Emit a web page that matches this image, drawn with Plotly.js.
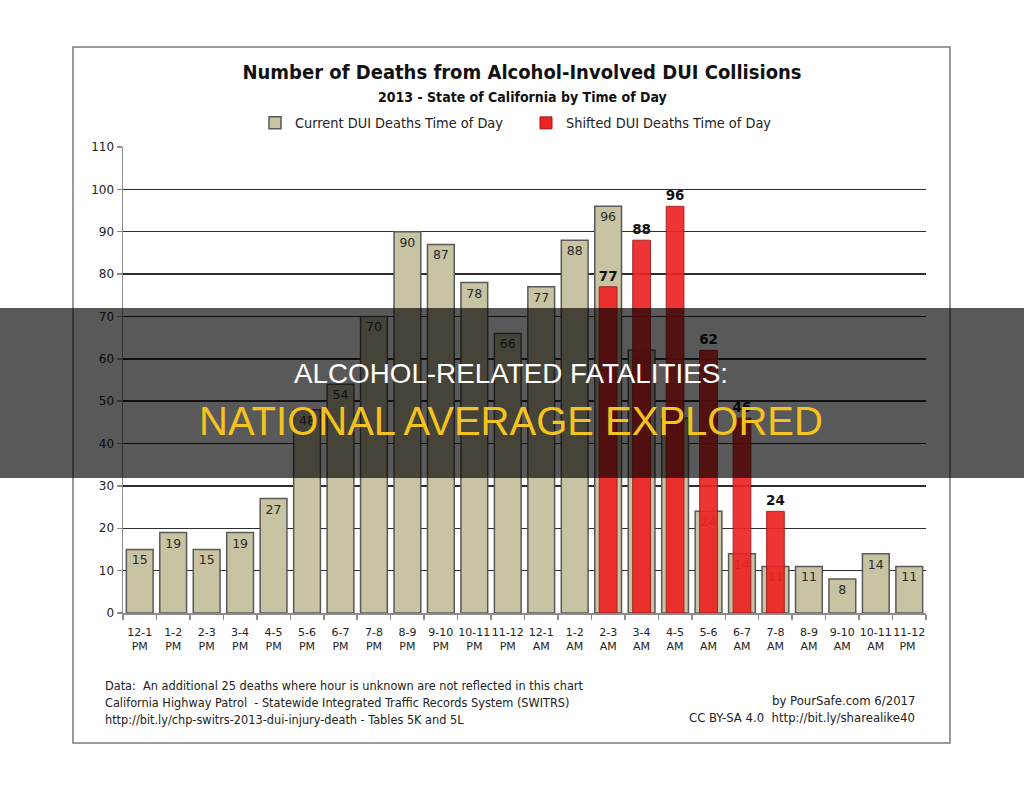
<!DOCTYPE html>
<html>
<head>
<meta charset="utf-8">
<script src="https://cdn.plot.ly/plotly-3.0.1.min.js"></script>
<style>
  html, body { margin: 0; padding: 0; background: #ffffff; }
  #chart { width: 1024px; height: 791px; }
</style>
</head>
<body>
<div id="chart"></div>
<script>
// Hour-of-day buckets (two-line tick labels). The last bucket carries a
// trailing space so both "11-12 PM" buckets stay separate categories.
const timeSlots = [
  '12-1<br>PM', '1-2<br>PM', '2-3<br>PM', '3-4<br>PM', '4-5<br>PM', '5-6<br>PM',
  '6-7<br>PM', '7-8<br>PM', '8-9<br>PM', '9-10<br>PM', '10-11<br>PM', '11-12<br>PM',
  '12-1<br>AM', '1-2<br>AM', '2-3<br>AM', '3-4<br>AM', '4-5<br>AM', '5-6<br>AM',
  '6-7<br>AM', '7-8<br>AM', '8-9<br>AM', '9-10<br>AM', '10-11<br>AM', '11-12<br>PM '
];

// Deaths per hour, 2013, California (SWITRS)
const currentDeaths = [15, 19, 15, 19, 27, 48, 54, 70, 90, 87, 78, 66,
                       77, 88, 96, 62, 46, 24, 14, 11, 11, 8, 14, 11];

// Same late-night deaths moved two hours later (2 AM close)
const shiftedDeaths = [null, null, null, null, null, null, null, null, null, null, null, null,
                       null, null, 77, 88, 96, 62, 46, 24, null, null, null, null];

const yTicks = [0, 10, 20, 30, 40, 50, 60, 70, 80, 90, 100, 110];

const seriesNames = ['Current DUI Deaths Time of Day', 'Shifted DUI Deaths Time of Day'];

const chartTitle = 'Number of Deaths from Alcohol-Involved DUI Collisions';
const chartSubtitle = '2013 - State of California by Time of Day';
const sourceLines = [
  'Data:  An additional 25 deaths where hour is unknown are not reflected in this chart',
  'California Highway Patrol  - Statewide Integrated Traffic Records System (SWITRS)',
  'http://bit.ly/chp-switrs-2013-dui-injury-death - Tables 5K and 5L'
];
const creditLines = [
  'by PourSafe.com 6/2017',
  'CC BY-SA 4.0  http://bit.ly/sharealike40'
];
const bannerTop = 'ALCOHOL-RELATED FATALITIES:';
const bannerBottom = 'NATIONAL AVERAGE EXPLORED';

// Plot area in page pixels
const W = 1024, H = 791;
const plotL = 123, plotR = 926, plotT = 147, plotB = 613;
const px = x => (x - plotL) / (plotR - plotL);
const py = y => (plotB - y) / (plotB - plotT);

const narrow = '"Liberation Sans Narrow", "DejaVu Sans Condensed", "Liberation Sans", sans-serif';
const tickFont = '"DejaVu Sans", Verdana, sans-serif';

const traces = [
  {
    type: 'bar',
    name: seriesNames[0],
    x: timeSlots,
    y: currentDeaths,
    width: 0.8,
    marker: { color: '#c8c3a3', line: { color: '#595959', width: 1.5 } },
    text: currentDeaths.map(String),
    textposition: 'inside',
    insidetextanchor: 'end',
    constraintext: 'none',
    insidetextfont: { family: tickFont, size: 12.5, color: '#2a2a2a' },
    cliponaxis: false,
    hoverinfo: 'x+y'
  },
  {
    type: 'bar',
    name: seriesNames[1],
    x: timeSlots,
    y: shiftedDeaths,
    width: 0.53,
    marker: { color: '#ec2424', opacity: 0.92, line: { color: '#a01818', width: 1 } },
    text: shiftedDeaths.map(v => v == null ? '' : String(v)),
    textposition: 'outside',
    constraintext: 'none',
    outsidetextfont: { family: tickFont, size: 13.5, color: '#111111', weight: 'bold' },
    cliponaxis: false,
    hoverinfo: 'x+y'
  }
];

const annotations = [
  {
    xref: 'paper', yref: 'paper', x: px(522), y: py(97),
    text: '<b>' + chartSubtitle + '</b>', showarrow: false,
    xanchor: 'center', yanchor: 'middle',
    font: { family: narrow, size: 14, color: '#111111' }
  }
];
sourceLines.forEach((t, i) => annotations.push({
  xref: 'paper', yref: 'paper', x: px(103), y: py(685 + i * 17),
  text: t, showarrow: false, xanchor: 'left', yanchor: 'middle',
  font: { family: narrow, size: 12.6, color: '#222222' }
}));
creditLines.forEach((t, i) => annotations.push({
  xref: 'paper', yref: 'paper', x: px(917), y: py(700 + i * 17),
  text: t, showarrow: false, xanchor: 'right', yanchor: 'middle',
  font: { family: narrow, size: 13, color: '#222222' }
}));
// Headline banner text
annotations.push({
  xref: 'paper', yref: 'paper', x: px(511), y: py(373),
  text: bannerTop, showarrow: false, xanchor: 'center', yanchor: 'middle',
  font: { family: '"Liberation Sans", Arial, sans-serif', size: 27.8, color: '#ffffff' }
});
annotations.push({
  xref: 'paper', yref: 'paper', x: px(511), y: py(421),
  text: bannerBottom, showarrow: false, xanchor: 'center', yanchor: 'middle',
  font: { family: '"Liberation Sans", Arial, sans-serif', size: 40, color: '#f4c31f' }
});

const shapes = [
  // outer chart frame
  {
    type: 'rect', xref: 'paper', yref: 'paper', layer: 'below',
    x0: px(73), x1: px(950), y0: py(47), y1: py(743),
    line: { color: '#7a7a7a', width: 1.5 }, fillcolor: 'rgba(0,0,0,0)'
  },
  // dark translucent banner across the middle
  {
    type: 'rect', xref: 'paper', yref: 'paper', layer: 'above',
    x0: px(0), x1: px(W), y0: py(308), y1: py(478),
    line: { width: 0 }, fillcolor: 'rgba(0,0,0,0.65)'
  }
];

const layout = {
  width: W, height: H,
  margin: { l: plotL, r: W - plotR, t: plotT, b: H - plotB, pad: 0 },
  paper_bgcolor: '#ffffff',
  plot_bgcolor: '#ffffff',
  barmode: 'overlay',
  showlegend: true,
  title: {
    text: '<b>' + chartTitle + '</b>',
    font: { family: narrow, size: 20, color: '#111111' },
    xref: 'paper', x: px(522), xanchor: 'center',
    yref: 'container', y: 1 - 72 / H, yanchor: 'middle'
  },
  legend: {
    orientation: 'h',
    xref: 'paper', yref: 'paper',
    x: px(255), y: py(123), xanchor: 'left', yanchor: 'middle',
    font: { family: narrow, size: 14.4, color: '#222222' },
    entrywidth: 226, entrywidthmode: 'pixels',
    itemwidth: 30,
    bgcolor: 'rgba(0,0,0,0)',
    traceorder: 'normal'
  },
  xaxis: {
    type: 'category',
    categoryorder: 'array',
    categoryarray: timeSlots,
    showline: true, linecolor: '#8c8c8c', linewidth: 1.5,
    ticks: 'outside', tickson: 'boundaries', ticklen: 5, tickcolor: '#8c8c8c', tickwidth: 1.5,
    tickangle: 0,
    ticklabelstandoff: 8,
    showgrid: false,
    tickfont: { family: tickFont, size: 11, color: '#222222' },
    fixedrange: true
  },
  yaxis: {
    range: [0, 110],
    tickvals: yTicks,
    showline: true, linecolor: '#8c8c8c', linewidth: 1.5,
    ticks: 'outside', ticklen: 5, tickcolor: '#8c8c8c', tickwidth: 1.5,
    showgrid: true, gridcolor: '#2e2e2e', gridwidth: 1.5,
    zeroline: false,
    tickfont: { family: tickFont, size: 12, color: '#222222' },
    fixedrange: true
  },
  annotations: annotations,
  shapes: shapes
};

Plotly.newPlot('chart', traces, layout, { displayModeBar: false, staticPlot: true });
</script>
</body>
</html>
